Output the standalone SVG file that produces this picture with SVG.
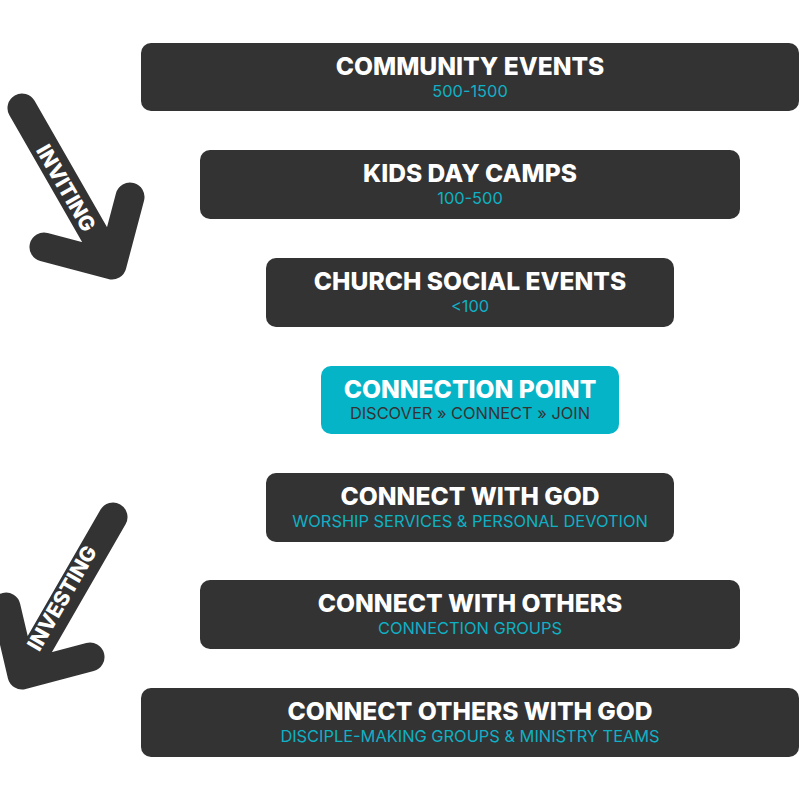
<svg xmlns="http://www.w3.org/2000/svg" width="800" height="800" viewBox="0 0 800 800">
<style>
.box{fill:#333333}
.cbox{fill:#06b4c8}
.t{font-family:Inter,"Open Sans","Liberation Sans",sans-serif;font-weight:800;font-size:24.6px;fill:#ffffff;text-anchor:middle}
.s{font-family:Inter,"Open Sans","Liberation Sans",sans-serif;font-weight:400;font-size:16.4px;fill:#0fb0c4;text-anchor:middle}
.sd{fill:#333333}
.arr{fill:none;stroke:#333333;stroke-width:29;stroke-linecap:round;stroke-linejoin:round}
.at{font-family:Inter,"Open Sans","Liberation Sans",sans-serif;font-weight:800;font-size:21px;fill:#ffffff;text-anchor:middle}
</style>
<rect width="800" height="800" fill="#ffffff"/>
<g id="connectors">
<g id="inviting-arrow">
<path class="arr" d="M22,108 L112,265 M44,247 L112,265 L130,197"/>
<text class="at" transform="translate(66,188) rotate(60)" dy="7.5">INVITING</text>
</g>
<g id="investing-arrow">
<path class="arr" d="M113,517 L22,675 M6,607 L22,675 L90,657"/>
<text class="at" transform="translate(62,598) rotate(-60)" dy="7.5">INVESTING</text>
</g>
</g>
<g id="community-events">
<rect class="box" x="141" y="43" width="658" height="68" rx="10"/>
<text class="t" x="470" y="75">COMMUNITY EVENTS</text>
<text class="s" x="470" y="97">500-1500</text>
</g>
<g id="kids-day-camps">
<rect class="box" x="200" y="150" width="540" height="69" rx="10"/>
<text class="t" x="470" y="182">KIDS DAY CAMPS</text>
<text class="s" x="470" y="204">100-500</text>
</g>
<g id="church-social-events">
<rect class="box" x="266" y="258" width="408" height="69" rx="10"/>
<text class="t" x="470" y="290">CHURCH SOCIAL EVENTS</text>
<text class="s" x="470" y="312">&lt;100</text>
</g>
<g id="connection-point">
<rect class="cbox" x="321" y="366" width="298" height="68" rx="10"/>
<text class="t" x="470" y="398">CONNECTION POINT</text>
<text class="s sd" x="470" y="419">DISCOVER » CONNECT » JOIN</text>
</g>
<g id="connect-with-god">
<rect class="box" x="266" y="473" width="408" height="69" rx="10"/>
<text class="t" x="470" y="505">CONNECT WITH GOD</text>
<text class="s" x="470" y="527">WORSHIP SERVICES &amp; PERSONAL DEVOTION</text>
</g>
<g id="connect-with-others">
<rect class="box" x="200" y="580" width="540" height="69" rx="10"/>
<text class="t" x="470" y="612">CONNECT WITH OTHERS</text>
<text class="s" x="470" y="634">CONNECTION GROUPS</text>
</g>
<g id="connect-others-with-god">
<rect class="box" x="141" y="688" width="658" height="69" rx="10"/>
<text class="t" x="470" y="720">CONNECT OTHERS WITH GOD</text>
<text class="s" x="470" y="742">DISCIPLE-MAKING GROUPS &amp; MINISTRY TEAMS</text>
</g>
</svg>
